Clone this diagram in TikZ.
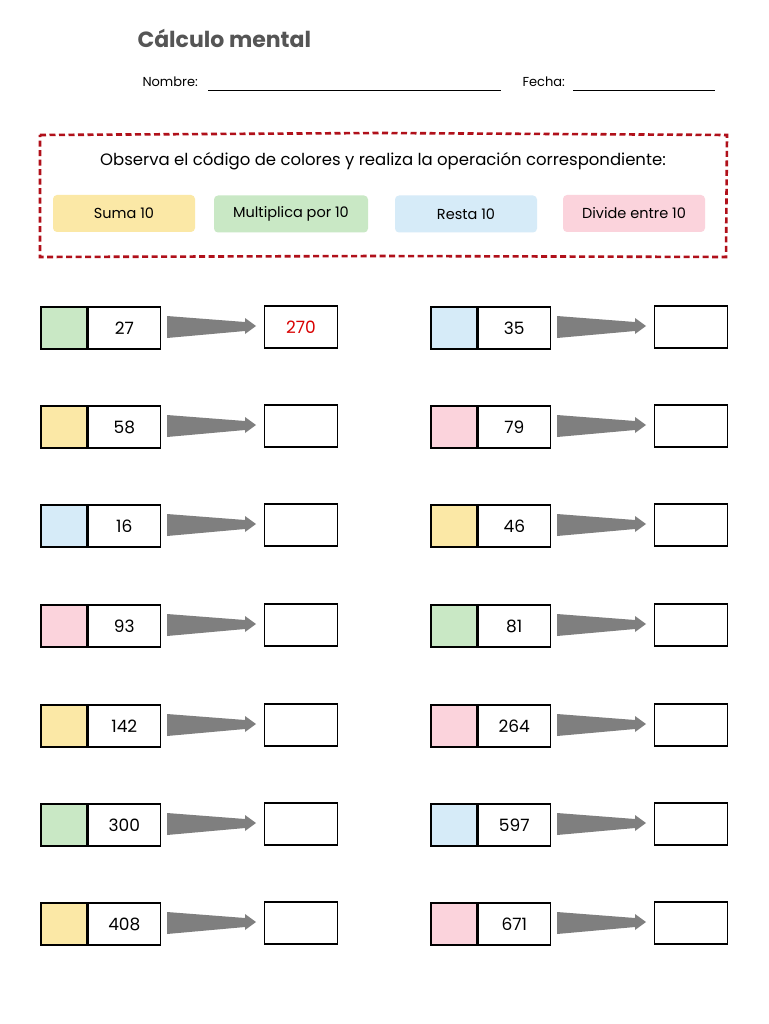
\documentclass[tikz,border=0pt]{standalone}
\usepackage{fontspec}
\setmainfont{Poppins}
\definecolor{cg}{HTML}{C9E8C5}
\definecolor{cy}{HTML}{FBE8A6}
\definecolor{cb}{HTML}{D6EBF8}
\definecolor{cp}{HTML}{FBD3DC}
\definecolor{dred}{HTML}{B0101A}
\definecolor{ttl}{HTML}{555555}
\definecolor{agray}{HTML}{7F7F7F}
\begin{document}
\begin{tikzpicture}[x=1pt,y=-1pt,
  colbox/.style={draw=black,line width=1.3pt,minimum width=46pt,minimum height=42pt,inner sep=0pt},
  numbox/.style={draw=black,line width=1.3pt,minimum width=72pt,minimum height=42pt,inner sep=0pt,font=\fontsize{17}{20}\selectfont},
  resbox/.style={draw=black,line width=1.3pt,minimum width=73pt,minimum height=42pt,inner sep=0pt,font=\fontsize{17}{20}\selectfont},
  legend/.style={rounded corners=4pt,minimum height=37pt,inner sep=0pt,font=\fontsize{14.5}{17}\selectfont},
  arr/.style={fill=agray}]
\useasboundingbox (0,0) rectangle (768,1024);
\fill[white] (0,0) rectangle (768,1024);
\node[anchor=west,text=ttl,font=\fontsize{22}{26}\selectfont\bfseries] (title) at (134,38) {Cálculo mental};
\node[anchor=west,font=\fontsize{13}{15}\selectfont] (nom) at (139,82) {Nombre:};
\coordinate (n1) at (208,90); \coordinate (n2) at (501,90);
\draw[line width=0.6pt] (n1) -- (n2);
\node[anchor=west,font=\fontsize{13}{15}\selectfont] (fec) at (519,82) {Fecha:};
\coordinate (f1) at (573,90); \coordinate (f2) at (715,90);
\draw[line width=0.6pt] (f1) -- (f2);
\draw[dred,line width=2.6pt,dash pattern=on 6pt off 3.5pt] (40,135) -- (380,133) -- (727,135) -- (726,257) -- (380,256) -- (40,257) -- cycle;
\node[font=\fontsize{16.5}{19}\selectfont] (instr) at (383,161) {Observa el código de colores y realiza la operación correspondiente:};
\node[legend,fill=cy,minimum width=142pt] (l1) at (124,213.5) {Suma 10};
\node[legend,fill=cg,minimum width=154pt] (l2) at (291,214) {Multiplica por 10};
\node[legend,fill=cb,minimum width=142pt] (l3) at (466,214) {Resta 10};
\node[legend,fill=cp,minimum width=142pt] (l4) at (634,213.5) {Divide entre 10};
\newcommand{\row}[6]{%
  \node[colbox,fill=#3] (c#1) at (#4+23,#2) {};
  \node[numbox,anchor=west] (v#1) at (c#1.east) {#5};
  \node[resbox] (r#1) at (#4+260,#2-1) {#6};
  \fill[arr] (#4+126,#2-12) -- (#4+204,#2-6) -- (#4+204,#2-10) -- (#4+215,#2-2) -- (#4+204,#2+6) -- (#4+204,#2+3) -- (#4+126,#2+10) -- cycle;
}
\row{a1}{328}{cg}{41}{27}{\textcolor{red!85!black}{270}}
\row{a2}{427}{cy}{41}{58}{}
\row{a3}{526}{cb}{41}{16}{}
\row{a4}{626}{cp}{41}{93}{}
\row{a5}{726}{cy}{41}{142}{}
\row{a6}{825}{cg}{41}{300}{}
\row{a7}{924}{cy}{41}{408}{}
\row{b1}{328}{cb}{431}{35}{}
\row{b2}{427}{cp}{431}{79}{}
\row{b3}{526}{cy}{431}{46}{}
\row{b4}{626}{cg}{431}{81}{}
\row{b5}{726}{cp}{431}{264}{}
\row{b6}{825}{cb}{431}{597}{}
\row{b7}{924}{cp}{431}{671}{}
\end{tikzpicture}
\end{document}
